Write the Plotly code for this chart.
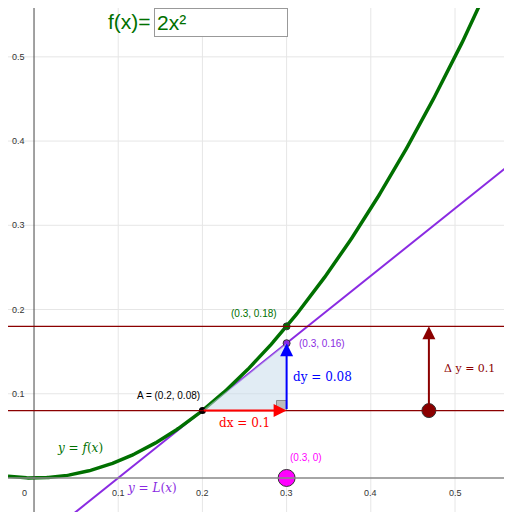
import numpy as np
import plotly.graph_objects as go

a = 0.2; dx = 0.1
fa = 2*a**2; fb = 2*(a+dx)**2; slope = 4*a
Ly = fa + slope*dx
xticks = [0.1, 0.2, 0.3, 0.4, 0.5]
yticks = [0.1, 0.2, 0.3, 0.4, 0.5]
dy_x = 0.469

W = 504
X0, X1 = -0.0309, 0.5677
Y0, Y1 = -0.0404, 0.558
xs = np.linspace(X0, X1, 300)
fig = go.Figure()
shapes = []
for t in xticks:
    shapes.append(dict(type="line", x0=t, x1=t, y0=Y0, y1=Y1, line=dict(color="#e6e6e6", width=1), layer="below"))
for t in yticks:
    shapes.append(dict(type="line", x0=X0, x1=X1, y0=t, y1=t, line=dict(color="#e6e6e6", width=1), layer="below"))
shapes += [
    dict(type="line", x0=0, x1=0, y0=Y0, y1=Y1, line=dict(color="#444", width=1)),
    dict(type="line", x0=X0, x1=X1, y0=0, y1=0, line=dict(color="#888", width=1.5)),
    dict(type="path", path=f"M {a} {fa} L {a+dx} {fa} L {a+dx} {Ly} Z", fillcolor="rgba(200,220,235,0.55)", line=dict(width=0)),
    dict(type="rect", x0=a+dx-0.012, x1=a+dx, y0=fa, y1=fa+0.012, fillcolor="#bbb", line=dict(color="#888", width=1)),
    dict(type="line", x0=X0, x1=X1, y0=fa, y1=fa, line=dict(color="#8b0000", width=1.2)),
    dict(type="line", x0=X0, x1=X1, y0=fb, y1=fb, line=dict(color="#8b0000", width=1.2)),
]
fig.add_trace(go.Scatter(x=xs, y=fa+slope*(xs-a), mode="lines", line=dict(color="#8a2be2", width=2)))
fig.add_trace(go.Scatter(x=xs, y=2*xs**2, mode="lines", line=dict(color="#007000", width=3.5)))
fig.add_trace(go.Scatter(x=[a], y=[fa], mode="markers", marker=dict(color="black", size=7)))
fig.add_trace(go.Scatter(x=[a+dx], y=[fb], mode="markers", marker=dict(color="#007000", size=7, line=dict(color="#333", width=1))))
fig.add_trace(go.Scatter(x=[a+dx], y=[Ly], mode="markers", marker=dict(color="#8a2be2", size=7, line=dict(color="#333", width=1))))
fig.add_trace(go.Scatter(x=[dy_x], y=[fa], mode="markers", marker=dict(color="#8b0000", size=14, line=dict(color="#333", width=1))))
fig.add_trace(go.Scatter(x=[a+dx], y=[0], mode="markers", marker=dict(color="#ff00ff", size=17, line=dict(color="#333", width=1))))

ann = []
def arrow(x0, y0, x1, y1, c):
    ann.append(dict(x=x1, y=y1, ax=x0, ay=y0, xref="x", yref="y", axref="x", ayref="y", showarrow=True,
                    arrowhead=2, arrowsize=1.3, arrowwidth=2, arrowcolor=c, text=""))
arrow(a, fa, a+dx, fa, "#ff0000")
arrow(a+dx, fa, a+dx, Ly, "#0000ff")
arrow(dy_x, fa, dy_x, fb, "#8b0000")
def txt(x, y, s, c, size=11, xa="center"):
    ann.append(dict(x=x, y=y, text=s, showarrow=False, font=dict(color=c, size=size, family="DejaVu Serif"), xanchor=xa))
for t in xticks:
    ann.append(dict(x=t, y=-0.018, text=f"{t:g}", showarrow=False, font=dict(size=9, color="#333", family="Arial")))
for t in yticks:
    ann.append(dict(x=-0.018, y=t, text=f"{t:g}", showarrow=False, font=dict(size=9, color="#333", family="Arial")))
ann.append(dict(x=-0.011, y=-0.018, text="0", showarrow=False, font=dict(size=9, color="#333", family="Arial")))
txt(a+0.05, fa-0.015, "dx = 0.1", "#ff0000", 12)
txt(a+dx+0.005, (fa+Ly)/2, "dy = 0.08", "#0000ff", 12, "left")
txt(dy_x+0.015, 0.13, "Δ y = 0.1", "#8b0000", 11, "left")
ann.append(dict(x=a+dx-0.068, y=fb+0.015, text="(0.3, 0.18)", showarrow=False, font=dict(size=10, color="#007000", family="Arial"), xanchor="left"))
ann.append(dict(x=a+dx+0.012, y=Ly+0.0, text="(0.3, 0.16)", showarrow=False, font=dict(size=10, color="#8a2be2", family="Arial"), xanchor="left"))
ann.append(dict(x=a-0.08, y=fa+0.018, text="A = (0.2, 0.08)", showarrow=False, font=dict(size=10, color="#000", family="Arial"), xanchor="left"))
ann.append(dict(x=a+dx+0.002, y=0.024, text="(0.3, 0)", showarrow=False, font=dict(size=10, color="#ff00ff", family="Arial"), xanchor="left"))
txt(0.055, 0.036, "<i>y</i> = <i>f</i>(<i>x</i>)", "#007000", 12)
txt(0.14, -0.012, "<i>y</i> = <i>L</i>(<i>x</i>)", "#8a2be2", 12)
ann.append(dict(x=145/W, y=1.0, xref="paper", yref="paper", text="f(x)=", showarrow=False, font=dict(size=21, color="#007000", family="Arial"), xanchor="right", yanchor="top"))
ann.append(dict(x=146/W, y=1.0, xref="paper", yref="paper", text="2x²" + "&nbsp;"*17, showarrow=False, font=dict(size=21, color="#007000", family="Arial"), xanchor="left", yanchor="top",
                bordercolor="#999", borderwidth=1, bgcolor="white", borderpad=2, align="left"))

fig.update_layout(width=W, height=W, margin=dict(l=0, r=0, t=0, b=0), showlegend=False,
                  plot_bgcolor="white", paper_bgcolor="white", shapes=shapes, annotations=ann)
fig.update_xaxes(range=[X0, X1], visible=False)
fig.update_yaxes(range=[Y0, Y1], visible=False)
fig.write_html("out.html")
